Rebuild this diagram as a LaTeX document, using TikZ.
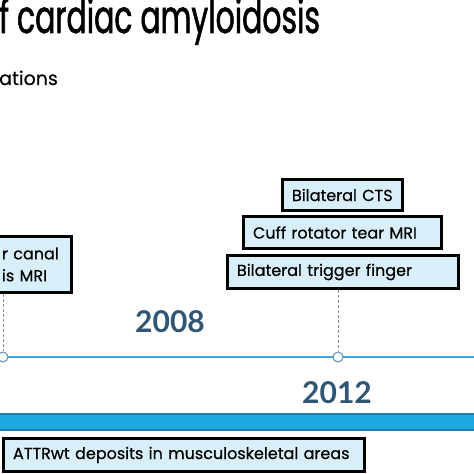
\documentclass[tikz,border=0pt]{standalone}
\usepackage{fontspec}
\setmainfont{Poppins}
\newfontfamily\titlefont[FakeStretch=0.65,FakeBold=1.2]{Poppins}
\newfontfamily\boxfont[FakeBold=0.4]{Poppins}
\newfontfamily\yearfont{Lato}
\definecolor{boxfill}{HTML}{D8EEF8}
\definecolor{tline}{HTML}{3AA6DA}
\definecolor{yearc}{HTML}{2F5675}
\definecolor{bandc}{HTML}{1DA8E0}
\definecolor{bandedge}{HTML}{1B7DB0}
\definecolor{circc}{HTML}{5E8FAE}
\definecolor{dashc}{HTML}{8A8A9A}
\tikzset{
  evbox/.style={draw=black, line width=3pt, fill=boxfill, inner xsep=9.5pt, inner ysep=0pt,
    align=left, font=\boxfont\fontsize{16}{19}\selectfont, anchor=center},
  yearlbl/.style={font=\yearfont\bfseries\fontsize{30}{33}\selectfont, text=yearc, inner sep=0pt},
  tick/.style={draw=circc, fill=white, line width=1pt, circle, minimum size=10pt, inner sep=0pt},
  guide/.style={draw=dashc, dashed, line width=0.8pt, dash pattern=on 3pt off 2pt},
}
\begin{document}
\begin{tikzpicture}[x=1pt,y=1pt]
\useasboundingbox (0,0) rectangle (474,474);
% title
\node[anchor=base west, inner sep=0pt, font=\titlefont\fontsize{46}{50}\selectfont] (title) at (-1,441) {f cardiac amyloidosis};
\node[anchor=base west, inner sep=0pt, font=\boxfont\fontsize{19}{22}\selectfont] (sub) at (-1,389) {ations};
% band
\fill[bandc] (-5,44) rectangle (479,60);
\draw[bandedge, line width=1.2pt] (-5,60) -- (479,60);
\draw[bandedge, line width=1.2pt] (-5,44) -- (479,44);
% timeline
\coordinate (tl0) at (-10,117);
\coordinate (tl1) at (484,117);
\draw[tline, line width=2pt] (tl0) -- (tl1);
% boxes
\node[evbox, minimum width=120pt, minimum height=31pt, text width=101pt] (cts) at (342.5,279) {Bilateral CTS};
\node[evbox, minimum width=198pt, minimum height=32pt, text width=179pt] (cuff) at (342.5,241.5) {Cuff rotator tear MRI};
\node[evbox, minimum width=231pt, minimum height=33pt, text width=212pt] (trig) at (343,202) {Bilateral trigger finger};
\node[evbox, minimum width=140pt, minimum height=56pt, text width=121pt, font=\boxfont\fontsize{16}{22}\selectfont] (lumb) at (1.5,209.5) {\hspace*{61pt}r canal\\\hspace*{61pt}is MRI};
\node[evbox, minimum width=361pt, minimum height=33pt, text width=342pt] (attr) at (184,19) {ATTRwt deposits in musculoskeletal areas};
% ticks
\node[tick] (t1) at (3,117) {};
\node[tick] (t2) at (338,117) {};
\draw[guide] (lumb.south -| t1) -- (t1.north);
\draw[guide] (trig.south -| t2) -- (t2.north);
% years
\node[yearlbl] (y2008) at (170,152) {2008};
\node[yearlbl] (y2012) at (337,81) {2012};
\end{tikzpicture}
\end{document}
